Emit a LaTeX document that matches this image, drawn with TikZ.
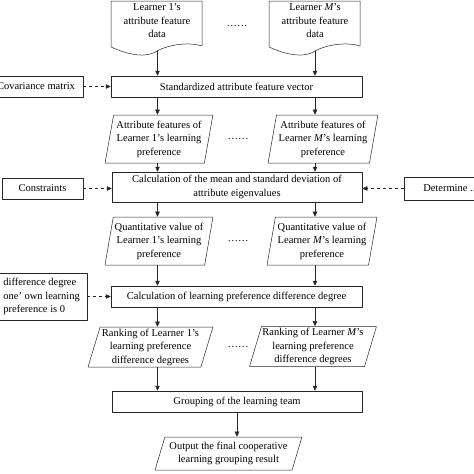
\documentclass[tikz,border=0pt]{standalone}
\usepackage{fontspec}
\setmainfont{Liberation Serif}
\usetikzlibrary{shapes.geometric,arrows.meta}
\begin{document}
\begin{tikzpicture}[x=1pt,y=-1pt,>={Triangle[length=5pt,width=4.5pt]},line join=round,
	font=\fontsize{10.5}{13.5}\selectfont,
	every node/.style={align=center,inner sep=1pt},
	box/.style={draw=black!85,line width=.5pt,rectangle,minimum height=21pt},
	para/.style={draw=black!85,line width=.5pt,trapezium,trapezium stretches=true,
		trapezium left angle=#1,trapezium right angle=180-#1},
	para/.default=78,
	link/.style={->,black!85,line width=.5pt},
	hint/.style={->,dashed,black!85,line width=.5pt}]
	\useasboundingbox (0,0) rectangle (474,474);
	% learner documents
	\foreach \s in {0,158}
	\draw[draw=black!85,line width=.5pt,xshift=\s] (111,1) -- (202,1) -- (202,46)
	.. controls +(-12,-4) and +(13,-7) .. (157,51)
	.. controls +(-7,5) and +(24,11) .. (111,47) -- cycle;
	\node (d1) at (157,21) {Learner 1’s\\attribute feature\\data};
	\node (dM) at (315,21) {Learner \textit{M}’s\\attribute feature\\data};
	\node (dots1) at (237,26) {……};
	\path (157.5,51) coordinate (d1b)
	(315,51) coordinate (dMb)
	(157.5,0) coordinate (c1)
	(315,0) coordinate (cM);
	% main column
	\node[box,minimum width=251pt] (std) at (236.5,86.5) {Standardized attribute feature vector};
	\node[box,minimum width=94pt] (cov) at (36,86.5) {Covariance matrix};
	\node[para,minimum width=108pt,minimum height=48pt] (a1) at (159,139) {Attribute features of\\Learner 1’s learning\\preference};
	\node[para,minimum width=110pt,minimum height=48pt] (aM) at (323,139) {Attribute features of\\Learner \textit{M}’s learning\\preference};
	\node (dots2) at (238,139) {……};
	\node[box,minimum width=250pt,minimum height=30pt] (mean) at (237,187) {Calculation of the mean and standard deviation of\\attribute eigenvalues};
	\node[box,minimum width=81pt] (cons) at (42.5,188.5) {Constraints};
	\node[box,anchor=west,inner xsep=19pt,minimum height=23pt] (det) at (404,188.5) {Determine ...};
	\node[para,minimum width=108pt,minimum height=48pt] (q1) at (159,241) {Quantitative value of\\Learner 1’s learning\\preference};
	\node[para,minimum width=110pt,minimum height=48pt] (qM) at (322,241) {Quantitative value of\\Learner \textit{M}’s learning\\preference};
	\node (dots3) at (238,241) {……};
	\node[box,minimum width=251pt] (diff) at (236.5,296.5) {Calculation of learning preference difference degree};
	\node[box,anchor=east,inner xsep=7pt,align=left,minimum height=47pt] (zero) at (87,296.5) {difference degree\\one’ own learning\\preference is 0};
	\node[para=72,minimum width=125pt,minimum height=40pt,inner ysep=0pt] (r1) at (150.5,347) {Ranking of Learner 1’s\\learning preference\\difference degrees};
	\node[para=72,minimum width=126pt,minimum height=40pt,inner ysep=0pt] (rM) at (313,346.5) {Ranking of Learner \textit{M}’s\\learning preference\\difference degrees};
	\node (dots4) at (238,347) {……};
	\node[box,minimum width=250pt] (grp) at (237,401.5) {Grouping of the learning team};
	\node[para=68,minimum width=147pt,minimum height=33pt,inner ysep=0pt] (out) at (228.5,453.5) {Output the final cooperative\\learning grouping result};
	% connectors
	\draw[link] (d1b) -- (std.north -| d1b);
	\draw[link] (dMb) -- (std.north -| dMb);
	\foreach \k/\c in {1/c1,M/cM} {
		\draw[link] (std.south -| \c) -- (a\k.north -| \c);
		\draw[link] (a\k.south -| \c) -- (mean.north -| \c);
		\draw[link] (mean.south -| \c) -- (q\k.north -| \c);
		\draw[link] (q\k.south -| \c) -- (diff.north -| \c);
		\draw[link] (diff.south -| \c) -- (r\k.north -| \c);
		\draw[link] (r\k.south -| \c) -- (grp.north -| \c);
	}
	\draw[link] (grp.south) -- (grp.south |- out.north);
	\draw[hint] (cov.east) -- (cov.east -| std.west);
	\draw[hint] (cons.east) -- (cons.east -| mean.west);
	\draw[hint] (det.west) -- (det.west -| mean.east);
	\draw[hint] (zero.east) -- (zero.east -| diff.west);
\end{tikzpicture}
\end{document}
